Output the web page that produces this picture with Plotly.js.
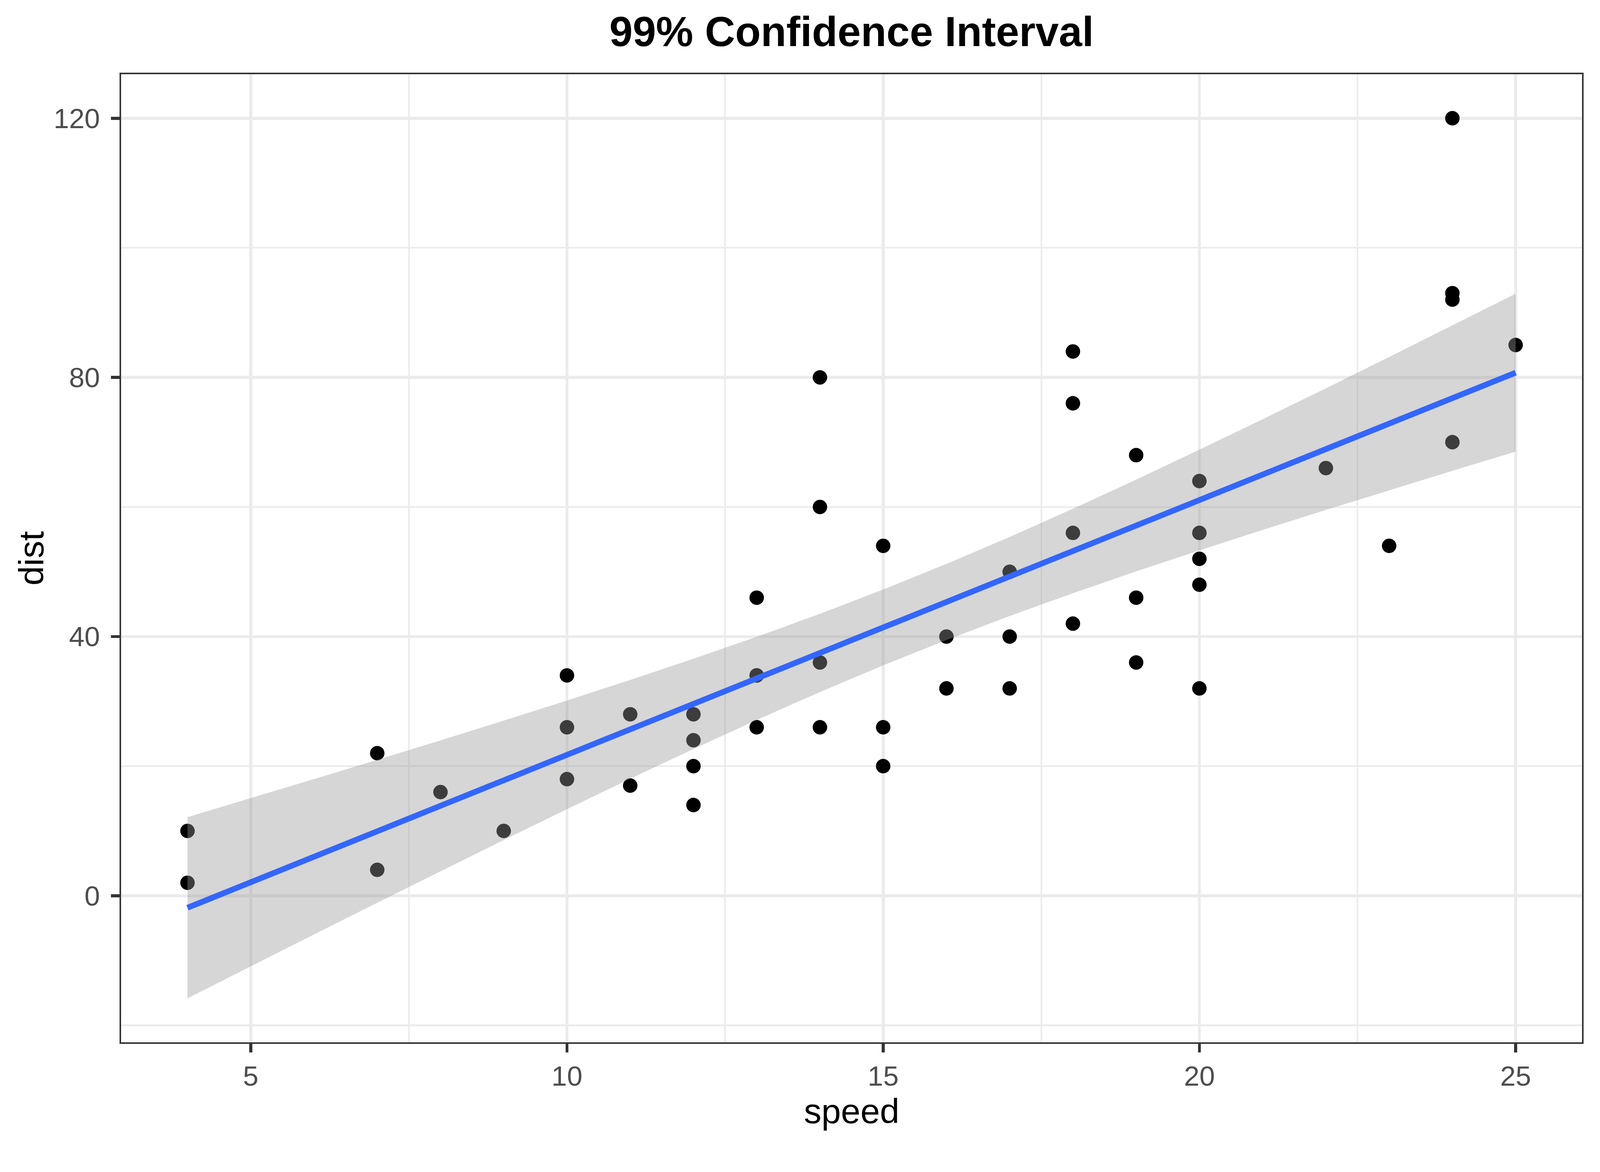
<!DOCTYPE html>
<html>
<head>
<meta charset="utf-8">
<script src="https://cdn.plot.ly/plotly-3.0.1.min.js"></script>
<style>html,body{margin:0;padding:0;background:#fff;overflow:hidden;}#chart{display:block;}</style>
</head>
<body>
<div id="chart"></div>
<script>
// Observations (speed vs stopping distance)
const speed = [4,4,7,7,8,9,10,10,10,11,11,12,12,12,12,13,13,13,13,14,14,14,14,15,15,15,16,16,17,17,17,18,18,18,18,19,19,19,20,20,20,20,20,22,23,24,24,24,24,25];
const dist  = [2,10,4,22,16,10,18,26,34,17,28,14,20,24,28,26,34,34,46,26,36,60,80,20,26,54,32,40,32,40,50,42,56,76,84,36,46,68,32,48,52,56,64,66,54,70,92,93,120,85];

// Fitted line and 99% confidence band, read along the speed axis
const bandX     = [4,5,6,7,8,9,10,11,12,13,14,15,16,17,18,19,20,21,22,23,24,25];
const fitY      = [-1.85,2.08,6.02,9.95,13.88,17.81,21.75,25.68,29.61,33.54,37.47,41.41,45.34,49.27,53.20,57.14,61.07,65.00,68.93,72.87,76.80,80.73];
const bandLower = [-15.83,-10.89,-5.98,-1.08,3.78,8.60,13.36,18.06,22.65,27.13,31.44,35.56,39.47,43.17,46.69,50.06,53.30,56.46,59.55,62.58,65.58,68.55];
const bandUpper = [12.13,15.06,18.01,20.98,23.98,27.03,30.13,33.30,36.57,39.96,43.51,47.26,51.21,55.37,59.72,64.22,68.84,73.54,78.32,83.15,88.02,92.92];

const xTicks = [5,10,15,20,25];
const yTicks = [0,40,80,120];

const titleText = '99% Confidence Interval';
const xTitle = 'speed';
const yTitle = 'dist';

const FONT = '"Liberation Sans", Arial, Helvetica, sans-serif';

// fit the 4200x3000 design to the actual viewport
const W = window.innerWidth || 4200;
const H = window.innerHeight || 3000;
const s = Math.min(W / 4200, H / 3000);
const px = v => v * s;

const TICK_FONT = px(73);

const traces = [
  {
    x: speed, y: dist, type: 'scatter', mode: 'markers',
    marker: {color: '#000000', size: px(38), line: {width: 0}},
    hoverinfo: 'x+y', showlegend: false
  },
  {
    x: bandX, y: bandLower, type: 'scatter', mode: 'lines',
    line: {width: 0, color: 'rgba(0,0,0,0)'}, showlegend: false, hoverinfo: 'skip'
  },
  {
    x: bandX, y: bandUpper, type: 'scatter', mode: 'lines',
    line: {width: 0, color: 'rgba(0,0,0,0)'}, fill: 'tonexty',
    fillcolor: 'rgba(153,153,153,0.4)', showlegend: false, hoverinfo: 'skip'
  },
  {
    x: bandX, y: fitY, type: 'scatter', mode: 'lines',
    line: {color: '#3366FF', width: px(15)}, showlegend: false
  }
];

const axisCommon = {
  showgrid: true, gridcolor: '#EBEBEB', gridwidth: px(8),
  zeroline: false,
  showline: true, mirror: true, linecolor: '#333333', linewidth: px(4.5),
  ticks: 'outside', ticklen: px(22), tickwidth: px(8), tickcolor: '#333333',
  tickfont: {family: FONT, size: TICK_FONT, color: '#4D4D4D'},
  automargin: false
};

const xStandoff0 = Math.round(px(12));

const layout = {
  width: 4200 * s, height: 3000 * s,
  paper_bgcolor: '#FFFFFF', plot_bgcolor: '#FFFFFF',
  margin: {l: px(318), r: px(47), t: px(195), b: px(265), pad: 0},
  title: {
    text: '<b>' + titleText + '</b>',
    font: {family: FONT, size: px(110), color: '#000000'},
    x: 0.5, xref: 'paper', xanchor: 'center',
    y: 1 - 44/3000, yref: 'container', yanchor: 'top'
  },
  xaxis: Object.assign({}, axisCommon, {
    range: [2.95, 26.05],
    tickvals: xTicks, ticktext: xTicks.map(String),
    ticklabelstandoff: xStandoff0,
    minor: {tickvals: [7.5,12.5,17.5,22.5], showgrid: true, gridcolor: '#EBEBEB', gridwidth: px(4.4), ticks: ''}
  }),
  yaxis: Object.assign({}, axisCommon, {
    range: [-22.62, 126.79],
    tickvals: yTicks, ticktext: yTicks.map(String),
    ticklabelstandoff: Math.round(px(14)),
    minor: {tickvals: [-20,20,60,100], showgrid: true, gridcolor: '#EBEBEB', gridwidth: px(4.4), ticks: ''}
  }),
  annotations: [
    {
      text: xTitle, xref: 'paper', yref: 'paper', x: 0.5, y: 0,
      xanchor: 'center', yanchor: 'middle', yshift: -px(180), showarrow: false,
      font: {family: FONT, size: px(92), color: '#000000'}
    },
    {
      text: yTitle, xref: 'paper', yref: 'paper', x: 0, y: 0.5,
      xanchor: 'center', yanchor: 'middle', xshift: -px(236), textangle: -90, showarrow: false,
      font: {family: FONT, size: px(92), color: '#000000'}
    }
  ]
};

Plotly.newPlot('chart', traces, layout, {displayModeBar: false, staticPlot: true}).then(gd => {
  // place the x tick label baselines where the design wants them (about 2826 of 3000)
  const lbl = gd.querySelector('.xtick text');
  if (!lbl) return;
  const r = lbl.getBoundingClientRect();
  const baseline = r.bottom - 0.212 * TICK_FONT;
  const delta = 2826 * s - baseline;
  if (Math.abs(delta) >= 1) {
    return Plotly.relayout(gd, {'xaxis.ticklabelstandoff': Math.max(0, Math.round(xStandoff0 + delta))});
  }
});
</script>
</body>
</html>
